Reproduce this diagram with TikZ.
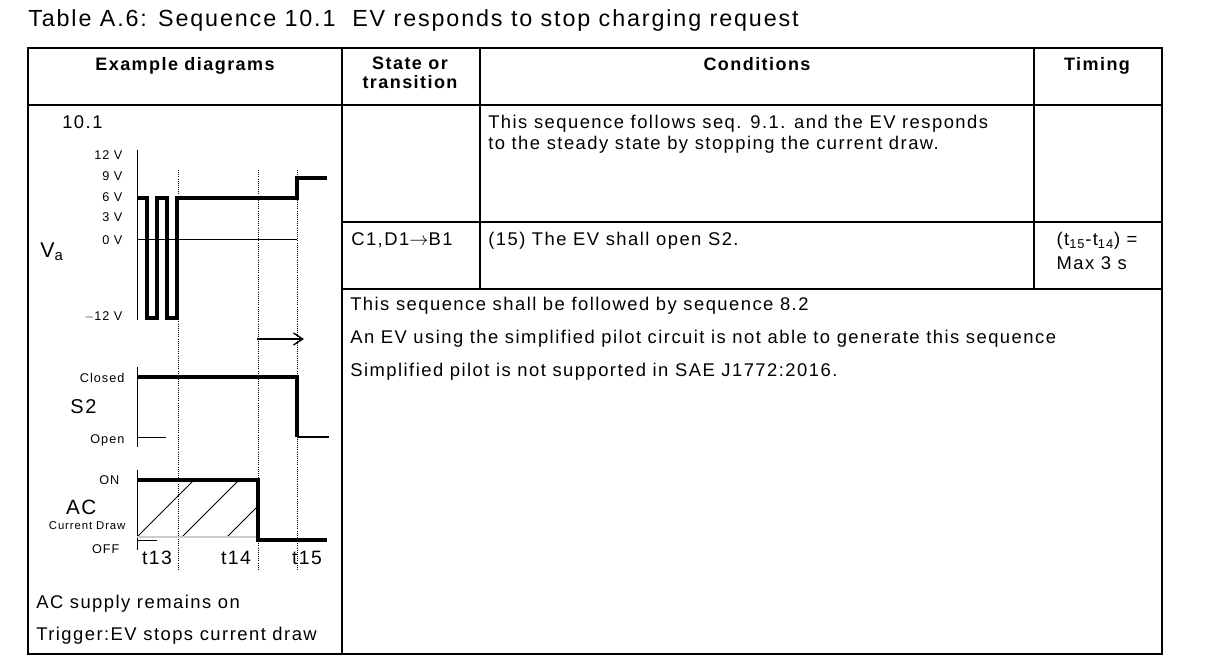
\documentclass[tikz,border=0pt]{standalone}
\usepackage{fontspec}
\setmainfont{Liberation Sans}[LetterSpace=8]
\usetikzlibrary{arrows.meta}
\begin{document}
\begin{tikzpicture}[x=0.75pt,y=-0.75pt,
  tb/.style={line width=1.2pt},
  sig/.style={line width=2.8pt,line join=miter},
  thin/.style={line width=0.6pt},
  dot/.style={line width=0.6pt,densely dotted},
  lab/.style={font=\fontsize{9.5}{11}\selectfont,anchor=east,inner sep=1pt},
  txt/.style={font=\fontsize{13.8}{16}\selectfont,anchor=north west,inner sep=0pt,align=left},
  hd/.style={font=\bfseries\fontsize{13.5}{15}\selectfont,anchor=north,inner sep=0pt,align=center}]
\useasboundingbox (0,0) rectangle (1211,665);
\node[anchor=west,inner sep=0pt,font=\fontsize{17.5}{19}\selectfont] (title) at (28,20) {Table A.6: Sequence 10.1\ \ EV responds to stop charging request};
% table
\draw[tb] (28,48) rectangle (1162,654);
\draw[tb] (342,48) -- (342,654);
\draw[tb] (480,48) -- (480,289);
\draw[tb] (1034,48) -- (1034,289);
\draw[tb] (28,105) -- (1162,105);
\draw[tb] (342,222) -- (1162,222);
\draw[tb] (342,289) -- (1162,289);
\node[hd] (h1) at (185,57) {Example diagrams};
\node[hd] (h2) at (410,57) {State or\\[-1pt]transition};
\node[hd] (h3) at (757,57) {Conditions};
\node[hd] (h4) at (1097,57) {Timing};
\node[txt] (c1) at (488,115) {This sequence follows seq. 9.1. and the EV responds\\to the steady state by stopping the current draw.};
\node[txt] (s2) at (351,232) {C1,D1$\rightarrow$B1};
\node[txt] (c2) at (488,232) {(15) The EV shall open S2.};
\node[txt,anchor=north] (t2) at (1097,232) {(t\textsubscript{15}-t\textsubscript{14}) =\\[2pt]Max 3 s};
\node[txt] (n1) at (350,297) {This sequence shall be followed by sequence 8.2};
\node[txt] (n2) at (350,330) {An EV using the simplified pilot circuit is not able to generate this sequence};
\node[txt] (n3) at (350,363) {Simplified pilot is not supported in SAE J1772:2016.};
\node[txt] (f1) at (36,595) {AC supply remains on};
\node[txt] (f2) at (36,627) {Trigger:EV stops current draw};
\node[txt] (num) at (62,115) {10.1};
% Va
\draw[thin] (137,150) -- (137,320);
\foreach \v/\y in {12 V/155,9 V/176,6 V/197,3 V/217,0 V/240,$-$12 V/317}
  \node[lab] at (124,\y) {\v};
\node[font=\fontsize{16}{17}\selectfont] (va) at (52,252) {V\textsubscript{a}};
\draw[thin] (137,239) -- (297,239);
\foreach \x in {178,258,297} \draw[dot] (\x,170) -- (\x,570);
\draw[sig] (137,198) -- (147,198) -- (147,318) -- (157,318) -- (157,198) -- (167,198) -- (167,318) -- (177,318) -- (177,198) -- (297,198) -- (297,178) -- (327,178);
\coordinate (a1) at (257,339); \coordinate (a2) at (304,339);
\draw[line width=1pt,-{Straight Barb[length=7pt,width=9pt]}] (a1) -- (a2);
% S2
\draw[thin] (137,367) -- (137,447);
\node[lab] at (126,378) {Closed};
\node[lab,font=\fontsize{15}{16}\selectfont] at (98,407) {S2};
\node[lab] at (126,440) {Open};
\draw[thin] (137,437) -- (166,437);
\draw[sig] (137,377) -- (297,377) -- (297,437);
\draw[line width=1.8pt] (297,437) -- (329,437);
% AC
\draw[thin] (137,470) -- (137,550);
\node[lab] at (121,480) {ON};
\node[lab,font=\fontsize{15.5}{16}\selectfont] at (98,507) {AC};
\node[lab,font=\fontsize{8.5}{10}\selectfont] at (127,526) {Current Draw};
\node[lab] at (121,549) {OFF};
\begin{scope}
\clip (137,480) rectangle (258,537);
\foreach \s in {0,45,...,225} \draw[thin] (137+\s,537) -- ++(60,-60);
\end{scope}
\draw[line width=1pt,gray!40] (137,537) -- (258,537);
\draw[thin] (137,540) -- (157,540);
\draw[sig] (137,480) -- (258,480) -- (258,540) -- (327,540);
\node[font=\fontsize{14.5}{15}\selectfont] (t13) at (157,558) {t13};
\node[font=\fontsize{14.5}{15}\selectfont] (t14) at (236,558) {t14};
\node[font=\fontsize{14.5}{15}\selectfont] (t15) at (307,558) {t15};
\end{tikzpicture}
\end{document}
